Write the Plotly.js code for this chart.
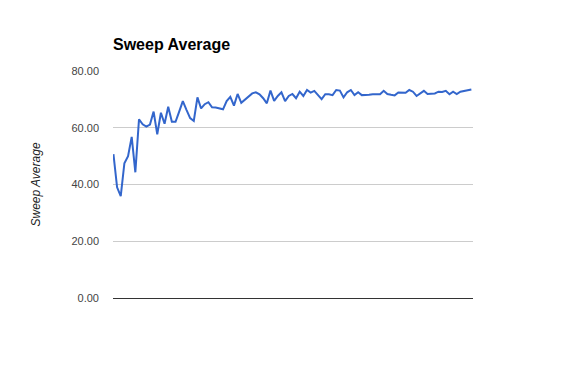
<!DOCTYPE html>
<html>
<head>
<meta charset="utf-8">
<script src="https://cdn.plot.ly/plotly-3.0.1.min.js"></script>
<style>html,body{margin:0;padding:0;background:#fff;}#chart{width:585px;height:371px;}</style>
</head>
<body>
<div id="chart"></div>
<script>
const chartTitle = "Sweep Average";
const yAxisTitle = "Sweep Average";
const sweepValues = [
  50.7, 39.0, 35.9, 47.5, 50.0, 56.8, 44.3, 63.0, 61.2, 60.4,
  61.1, 65.7, 57.7, 65.3, 61.4, 67.4, 62.1, 62.1, 65.7, 69.4,
  66.3, 63.4, 62.4, 70.7, 66.8, 68.3, 69.0, 67.2, 67.1, 66.7,
  66.5, 69.4, 70.9, 67.8, 71.9, 68.8, 70.0, 71.2, 72.1, 72.5,
  71.8, 70.4, 68.6, 73.1, 69.5, 71.2, 72.5, 69.4, 71.2, 71.9,
  70.4, 72.7, 71.2, 73.3, 72.4, 73.0, 71.5, 70.1, 71.8, 71.8,
  71.5, 73.3, 73.1, 70.7, 72.5, 73.3, 71.5, 72.5, 71.5, 71.5,
  71.6, 71.8, 71.9, 71.8, 73.0, 71.9, 71.6, 71.4, 72.4, 72.4,
  72.3, 73.3, 72.7, 71.2, 72.1, 73.0, 71.9, 71.9, 72.1, 72.7,
  72.6, 73.0, 71.8, 72.7, 71.9, 72.7, 72.9, 73.1, 73.5
];
const sweepIndex = sweepValues.map((v, i) => i + 1);
const yTickValues = [0, 20, 40, 60, 80];

const n = sweepValues.length;
const trace = {
  x: sweepIndex,
  y: sweepValues,
  type: "scatter",
  mode: "lines",
  line: {color: "#3366cc", width: 2},
  hoverinfo: "x+y"
};

const layout = {
  width: 585,
  height: 371,
  margin: {l: 113, r: 112, t: 71, b: 73, pad: 0},
  paper_bgcolor: "#ffffff",
  plot_bgcolor: "#ffffff",
  showlegend: false,
  title: {
    text: chartTitle,
    font: {family: "Liberation Sans, Arial, sans-serif", size: 16, color: "#000000", weight: "bold"},
    xref: "paper", x: 0, xanchor: "left",
    yref: "container", y: 1 - 44 / 371, yanchor: "middle"
  },
  xaxis: {
    range: [1 - 0.12, n + 0.45],
    showgrid: false,
    zeroline: false,
    showticklabels: false,
    ticks: "",
    showline: false,
    fixedrange: true
  },
  yaxis: {
    range: [0, 80],
    tickvals: yTickValues,
    tickformat: ".2f",
    showgrid: true,
    gridcolor: "#cccccc",
    gridwidth: 1,
    zeroline: true,
    zerolinecolor: "#333333",
    zerolinewidth: 1,
    showline: false,
    ticks: "",
    ticklabelstandoff: 13,
    tickfont: {family: "Liberation Sans, Arial, sans-serif", size: 11, color: "#444444"},
    fixedrange: true
  },
  annotations: [{
    text: "<i>" + yAxisTitle + "</i>",
    xref: "paper", yref: "paper",
    x: (35 - 113) / 360, y: 0.5,
    xanchor: "center", yanchor: "middle",
    textangle: -90,
    showarrow: false,
    font: {family: "Liberation Sans, Arial, sans-serif", size: 12, color: "#222222"}
  }]
};

Plotly.newPlot("chart", [trace], layout, {displayModeBar: false, staticPlot: true});
</script>
</body>
</html>
